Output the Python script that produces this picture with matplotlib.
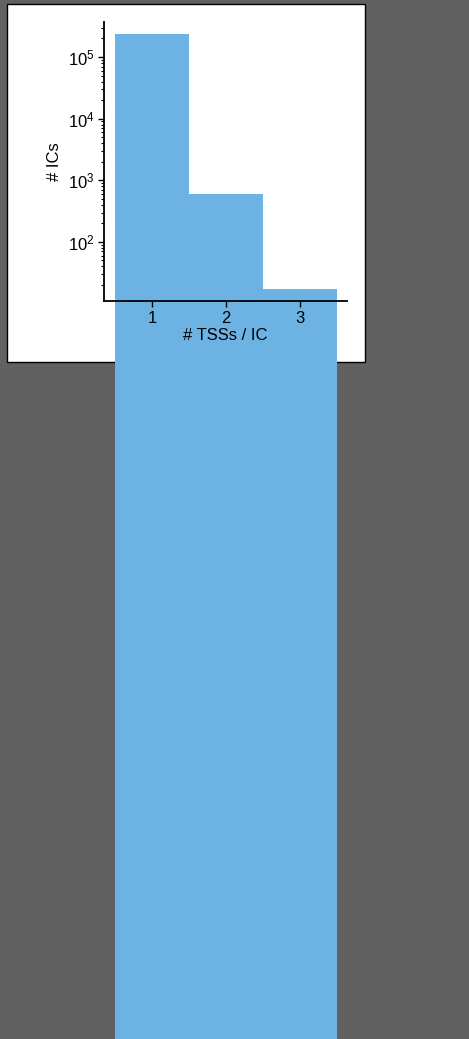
import matplotlib
matplotlib.use("Agg")
import matplotlib.pyplot as plt
from matplotlib.patches import Rectangle

n_tss = [1, 2, 3]
n_ics = [235000, 590, 17]

plt.rcParams['font.family'] = ['Liberation Sans', 'DejaVu Sans']

fig = plt.figure(figsize=(4.69, 10.39), dpi=100)
fig.patch.set_facecolor('#616161')

# white panel behind the plot
fig.patches.append(Rectangle((7/469, 1-362/1039), 358/469, 358/1039,
                             transform=fig.transFigure, facecolor='white',
                             edgecolor='black', linewidth=1, zorder=-1))

ax = fig.add_axes([104/469, 1-301/1039, 243/469, 279/1039])
ax.set_facecolor('none')
ax.bar(n_tss, n_ics, width=1.0, color='#6cb2e3', clip_on=False, zorder=1)
ax.set_yscale('log')
ax.set_ylim(11, 3.7e5)
ax.set_xlim(0.35, 3.63)
ax.set_xticks(n_tss)
ax.set_xlabel('# TSSs / IC', fontsize=12, labelpad=2)
ax.set_ylabel('# ICs', fontsize=12, labelpad=4)
ax.tick_params(labelsize=12, width=1, length=4, pad=3)
ax.tick_params(which='minor', length=2, width=0.8)
for s in ['top', 'right']:
    ax.spines[s].set_visible(False)
for s in ['left', 'bottom']:
    ax.spines[s].set_linewidth(1.3)
    ax.spines[s].set_zorder(3)

fig.savefig('out.png', dpi=100, facecolor=fig.get_facecolor())
